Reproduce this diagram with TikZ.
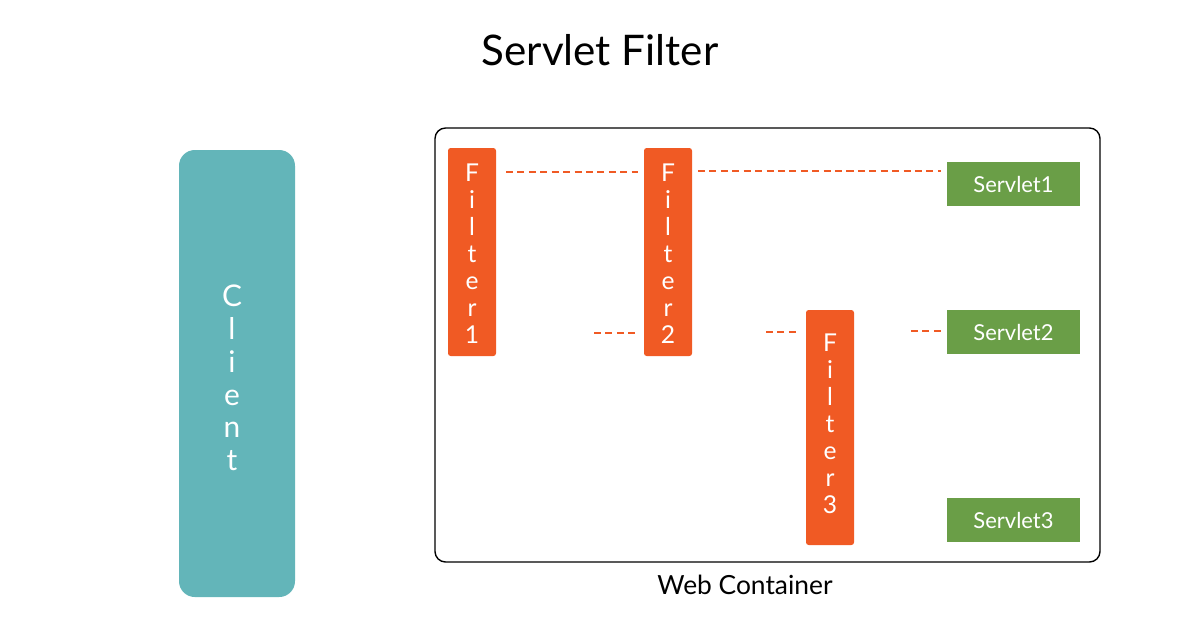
\documentclass[tikz,border=0pt]{standalone}
\usepackage{fontspec}
\setmainfont{Lato}
\begin{document}
\begin{tikzpicture}[x=0.02cm,y=-0.02cm,
 filt/.style={draw=none,text=white,align=center,inner sep=0pt,font=\fontsize{14}{15.4}\selectfont},
 serv/.style={fill=grn,draw=none,text=white,minimum width=2.66cm,minimum height=0.88cm,inner sep=0pt,font=\fontsize{12.5}{14}\selectfont},
 conn/.style={draw=orng,line width=1.3pt,dash pattern=on 4pt off 2.5pt}]
\definecolor{orng}{HTML}{F05A24}
\definecolor{grn}{HTML}{6A9E47}
\definecolor{teal}{HTML}{63B5B9}
\useasboundingbox (0,0) rectangle (1200,630);
\node (title) at (600,50) {\fontsize{24}{28}\selectfont Servlet Filter};
\fill[teal,rounded corners=9pt] (179,150) rectangle (295,597);
\node[text=white,align=center,font=\fontsize{17}{18.7}\selectfont] (client) at (232,378) {C\\l\\i\\e\\n\\t};
\draw[line width=0.8pt,rounded corners=6pt] (435,128) rectangle (1100,562);
\node[font=\fontsize{15}{18}\selectfont] (wc) at (745,585) {Web Container};
\fill[orng,rounded corners=1.5pt] (448,148) rectangle (496,356);
\fill[orng,rounded corners=1.5pt] (644,148) rectangle (692,356);
\fill[orng,rounded corners=1.5pt] (806,310) rectangle (854,545);
\node[filt] (f1) at (472,254) {F\\i\\l\\t\\e\\r\\1};
\node[filt] (f2) at (668,254) {F\\i\\l\\t\\e\\r\\2};
\node[filt] (f3) at (830,424) {F\\i\\l\\t\\e\\r\\3};
\node[serv] (s1) at (1013.5,184) {Servlet1};
\node[serv] (s2) at (1013.5,332) {Servlet2};
\node[serv] (s3) at (1013.5,520) {Servlet3};
\coordinate (a1) at (506,172); \coordinate (a2) at (638,172);
\coordinate (b1) at (698,171); \coordinate (b2) at (941,171);
\coordinate (c1) at (594,333); \coordinate (c2) at (638,333);
\coordinate (d1) at (766,332); \coordinate (d2) at (800,332);
\coordinate (e1) at (911,331); \coordinate (e2) at (941,331);
\draw[conn] (a1) -- (a2);
\draw[conn] (b1) -- (b2);
\draw[conn] (c1) -- (c2);
\draw[conn] (d1) -- (d2);
\draw[conn] (e1) -- (e2);
\end{tikzpicture}
\end{document}
